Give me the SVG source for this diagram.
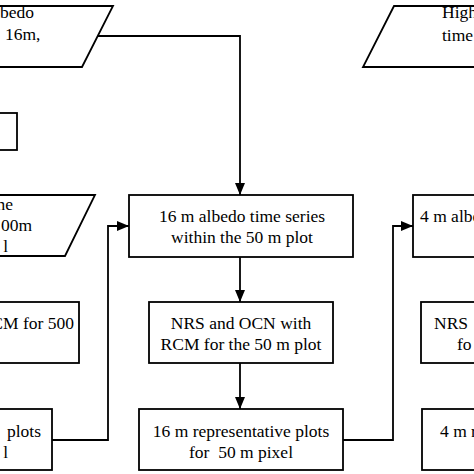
<svg xmlns="http://www.w3.org/2000/svg" width="474" height="474" viewBox="0 0 474 474">
<defs>
<style>
.s{fill:#fff;stroke:#000;stroke-width:1.8}
.t{font-family:"Liberation Serif","Times New Roman",serif;font-size:17.5px;fill:#000}
.m{text-anchor:middle}
.e{text-anchor:end}
.c{fill:none;stroke:#000;stroke-width:1.8}
</style>
<marker id="a" viewBox="0 0 12 10" refX="12" refY="5" markerWidth="12" markerHeight="10" markerUnits="userSpaceOnUse" orient="auto"><path d="M0,0L12,5L0,10Z" fill="#000"/></marker>
</defs>
<rect width="474" height="474" fill="#fff"/>
<g id="connectors">
<path class="c" d="M97,36H240V195" marker-end="url(#a)"/>
<path class="c" d="M240,257V302" marker-end="url(#a)"/>
<path class="c" d="M240,363V409" marker-end="url(#a)"/>
<path class="c" d="M52,440H108V226H129" marker-end="url(#a)"/>
<path class="c" d="M343,440H393V226H413" marker-end="url(#a)"/>
</g>
<g id="input-left-top">
<polygon class="s" points="-40,6 113,6 82,67 -60,67"/>
<text class="t e" x="34" y="18">bedo</text>
<text class="t" x="5" y="40">16m,</text>
</g>
<g id="input-right-top">
<polygon class="s" points="394,6 520,6 490,67 363,67"/>
<text class="t" x="442" y="18">High</text>
<text class="t" x="442" y="41">time</text>
</g>
<g id="left-small">
<rect class="s" x="-10" y="113" width="27" height="37"/>
</g>
<g id="input-left-mid">
<polygon class="s" points="-40,195 95,195 65,256 -60,256"/>
<text class="t e" x="13" y="210">ne</text>
<text class="t e" x="32" y="231">00m</text>
<text class="t e" x="8" y="252">l</text>
</g>
<g id="center-1">
<rect class="s" x="129" y="195" width="224" height="62"/>
<text class="t m" x="242" y="222">16 m albedo time series</text>
<text class="t m" x="242" y="243">within the 50 m plot</text>
</g>
<g id="center-2">
<rect class="s" x="149" y="302" width="184" height="61"/>
<text class="t m" x="241" y="329">NRS and OCN with</text>
<text class="t m" x="241" y="350">RCM for the 50 m plot</text>
</g>
<g id="center-3">
<rect class="s" x="139" y="409" width="204" height="61"/>
<text class="t m" x="241" y="437">16 m representative plots</text>
<text class="t m" x="241" y="458" xml:space="preserve">for  50 m pixel</text>
</g>
<g id="left-2">
<rect class="s" x="-10" y="302" width="89" height="61"/>
<text class="t e" x="74" y="329">CM for 500</text>
</g>
<g id="left-3">
<rect class="s" x="-10" y="409" width="62" height="61"/>
<text class="t e" x="41" y="437">plots</text>
<text class="t e" x="8" y="458">l</text>
</g>
<g id="right-1">
<rect class="s" x="413" y="195" width="80" height="62"/>
<text class="t" x="420" y="222">4 m albe</text>
</g>
<g id="right-2">
<rect class="s" x="421" y="302" width="80" height="61"/>
<text class="t" x="434" y="329">NRS</text>
<text class="t" x="457" y="350">fo</text>
</g>
<g id="right-3">
<rect class="s" x="422" y="409" width="80" height="61"/>
<text class="t" x="440" y="437">4 m r</text>
</g>
</svg>
